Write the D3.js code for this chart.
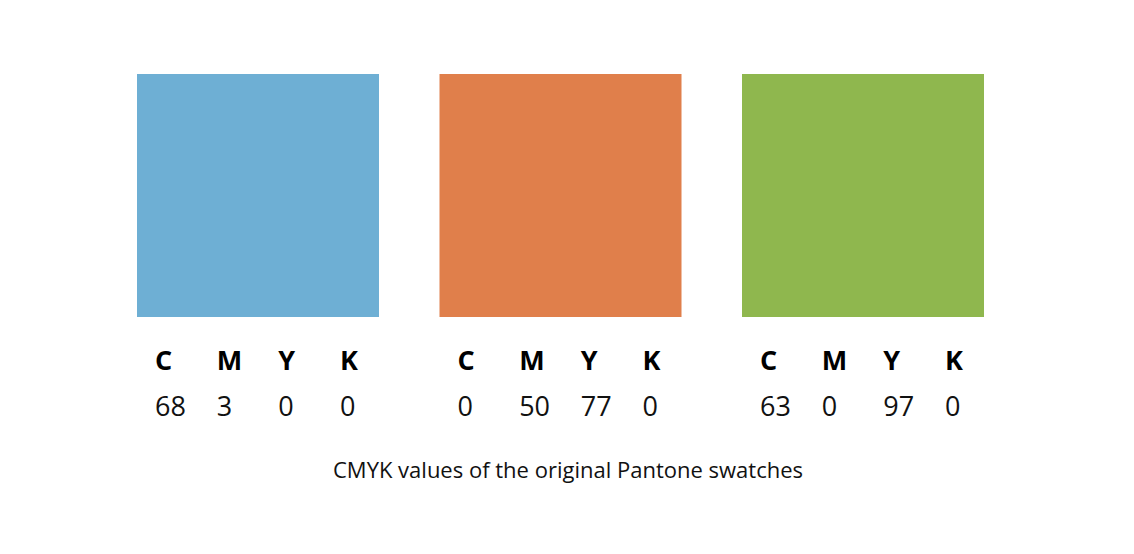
<!DOCTYPE html>
<html>
<head>
<meta charset="utf-8">
<script src="https://cdn.jsdelivr.net/npm/d3@7"></script>
<style>body{margin:0;background:#fff;}</style>
</head>
<body>
<script>
var w = 1134;
var h = 554;

var swatches = ["blue", "orange", "green"];
var colors = ["#6eafd4", "#e07f4b", "#8fb74e"];
var channels = ["C", "M", "Y", "K"];
var values = [
  [68, 3, 0, 0],
  [0, 50, 77, 0],
  [63, 0, 97, 0]
];

var x = d3.scaleBand().domain(swatches).range([137, 984]).paddingInner(0.2);
var cx = d3.scaleLinear().domain([0, 3]).range([18, 203]);

var svg = d3.select("body").append("svg")
  .attr("width", w)
  .attr("height", h)
  .style("font-family", "'Open Sans', sans-serif");

var g = svg.selectAll("g.sw")
  .data(swatches)
  .enter()
  .append("g")
  .attr("class", "sw")
  .attr("transform", function(d) { return "translate(" + x(d) + ",0)"; });

g.append("rect")
  .attr("y", 74)
  .attr("width", x.bandwidth())
  .attr("height", 243)
  .attr("fill", function(d, i) { return colors[i]; });

g.selectAll("text.ch")
  .data(channels)
  .enter()
  .append("text")
  .attr("class", "ch")
  .attr("x", function(d, i) { return cx(i); })
  .attr("y", 370)
  .attr("font-size", "27px")
  .attr("font-weight", "bold")
  .attr("fill", "#000")
  .text(function(d) { return d; });

g.selectAll("text.val")
  .data(function(d, i) { return values[i]; })
  .enter()
  .append("text")
  .attr("class", "val")
  .attr("x", function(d, i) { return cx(i); })
  .attr("y", 416)
  .attr("font-size", "27px")
  .attr("fill", "#111")
  .text(function(d) { return d; });

svg.append("text")
  .attr("x", 568)
  .attr("y", 478)
  .attr("text-anchor", "middle")
  .attr("font-size", "22px")
  .attr("fill", "#111")
  .text("CMYK values of the original Pantone swatches");
</script>
</body>
</html>
